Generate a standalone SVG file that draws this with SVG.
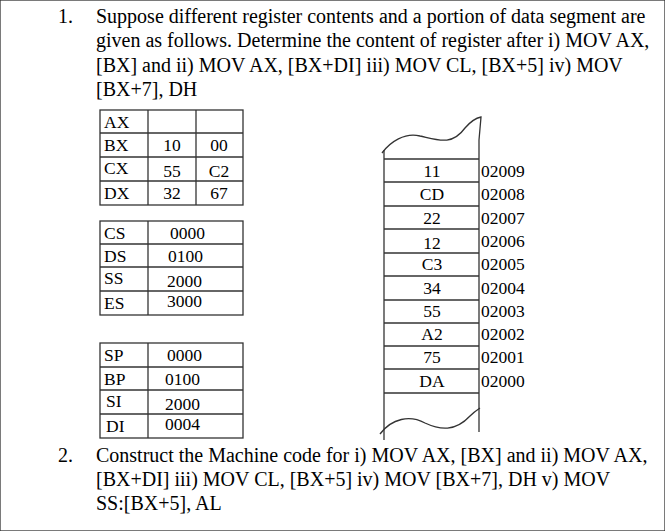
<svg xmlns="http://www.w3.org/2000/svg" width="665" height="531" viewBox="0 0 665 531">
<style>
text{font-family:"Liberation Serif",serif;font-size:20px;fill:#000}
text.t{font-size:17.5px}
.m{text-anchor:middle}
line,rect,path{stroke:#333;stroke-width:1.3;fill:none}
</style>
<rect width="665" height="531" fill="#fff" stroke="none"/>
<g id="q1">
<text x="58" y="23">1.</text>
<text x="96" y="23">Suppose different register contents and a portion of data segment are</text>
<text x="96" y="47">given as follows. Determine the content of register after i) MOV AX,</text>
<text x="96" y="72">[BX] and ii) MOV AX, [BX+DI] iii) MOV CL, [BX+5] iv) MOV</text>
<text x="96" y="96">[BX+7], DH</text>
</g>
<g id="table1">
<rect x="100" y="110" width="143" height="95"/>
<line x1="148" y1="110" x2="148" y2="205"/><line x1="196" y1="110" x2="196" y2="205"/>
<line x1="100" y1="133" x2="243" y2="133"/><line x1="100" y1="157" x2="243" y2="157"/><line x1="100" y1="181" x2="243" y2="181"/>
<text class="t" x="104" y="128">AX</text>
<text class="t" x="104" y="151">BX</text><text class="t m" x="172" y="151">10</text><text class="t m" x="219" y="151">00</text>
<text class="t" x="104" y="174">CX</text><text class="t m" x="172" y="177">55</text><text class="t m" x="219" y="177">C2</text>
<text class="t" x="104" y="199">DX</text><text class="t m" x="172" y="199">32</text><text class="t m" x="219" y="199">67</text>
</g>
<g id="table2">
<rect x="100" y="221" width="143" height="94"/>
<line x1="148" y1="221" x2="148" y2="315"/>
<line x1="100" y1="244" x2="243" y2="244"/><line x1="100" y1="267" x2="243" y2="267"/><line x1="100" y1="291" x2="243" y2="291"/>
<text class="t" x="104" y="239">CS</text><text class="t" x="170" y="239">0000</text>
<text class="t" x="104" y="262">DS</text><text class="t" x="168" y="262">0100</text>
<text class="t" x="104" y="284">SS</text><text class="t" x="167" y="287">2000</text>
<text class="t" x="104" y="309">ES</text><text class="t" x="167" y="307">3000</text>
</g>
<g id="table3">
<rect x="100" y="343" width="143" height="95"/>
<line x1="148" y1="343" x2="148" y2="438"/>
<line x1="100" y1="367" x2="243" y2="367"/><line x1="100" y1="390" x2="243" y2="390"/><line x1="100" y1="414" x2="243" y2="414"/>
<text class="t" x="104" y="361">SP</text><text class="t" x="167" y="361">0000</text>
<text class="t" x="104" y="385">BP</text><text class="t" x="165" y="385">0100</text>
<text class="t" x="106" y="407">SI</text><text class="t" x="165" y="410">2000</text>
<text class="t" x="106" y="432">DI</text><text class="t" x="165" y="430">0004</text>
</g>
<g id="memory">
<path d="M382,153 C390,142 405,132 420,136 C438,140 452,146 465,128 C471,121 476,118 481,117 L479,140"/>
<path d="M384,150 L384,440"/>
<path d="M479,140 L479,432"/>
<path d="M380,434 C392,418 410,415 425,423 C440,430 455,432 470,416 C474,412 477,410 480,408"/>
<line x1="384" y1="159" x2="479" y2="159"/><line x1="384" y1="182" x2="479" y2="182"/><line x1="384" y1="206" x2="479" y2="206"/>
<line x1="384" y1="229" x2="479" y2="229"/><line x1="384" y1="253" x2="479" y2="253"/><line x1="384" y1="276" x2="479" y2="276"/>
<line x1="384" y1="300" x2="479" y2="300"/><line x1="384" y1="323" x2="479" y2="323"/><line x1="384" y1="346" x2="479" y2="346"/>
<line x1="384" y1="369" x2="479" y2="369"/><line x1="384" y1="393" x2="479" y2="393"/>
<text class="t m" x="432" y="177">11</text><text class="t m" x="432" y="200">CD</text><text class="t m" x="432" y="224">22</text>
<text class="t m" x="432" y="249">12</text><text class="t m" x="432" y="270">C3</text><text class="t m" x="432" y="294">34</text>
<text class="t m" x="432" y="317">55</text><text class="t m" x="432" y="340">A2</text><text class="t m" x="432" y="363">75</text>
<text class="t m" x="432" y="387">DA</text>
<text class="t" x="481" y="177">02009</text><text class="t" x="481" y="200">02008</text><text class="t" x="481" y="224">02007</text>
<text class="t" x="481" y="247">02006</text><text class="t" x="481" y="270">02005</text><text class="t" x="481" y="294">02004</text>
<text class="t" x="481" y="317">02003</text><text class="t" x="481" y="340">02002</text><text class="t" x="481" y="363">02001</text>
<text class="t" x="481" y="387">02000</text>
</g>
<g id="q2">
<text x="58" y="462">2.</text>
<text x="96" y="462">Construct the Machine code for i) MOV AX, [BX] and ii) MOV AX,</text>
<text x="96" y="486">[BX+DI] iii) MOV CL, [BX+5] iv) MOV [BX+7], DH v) MOV</text>
<text x="96" y="510">SS:[BX+5], AL</text>
</g>
</svg>
